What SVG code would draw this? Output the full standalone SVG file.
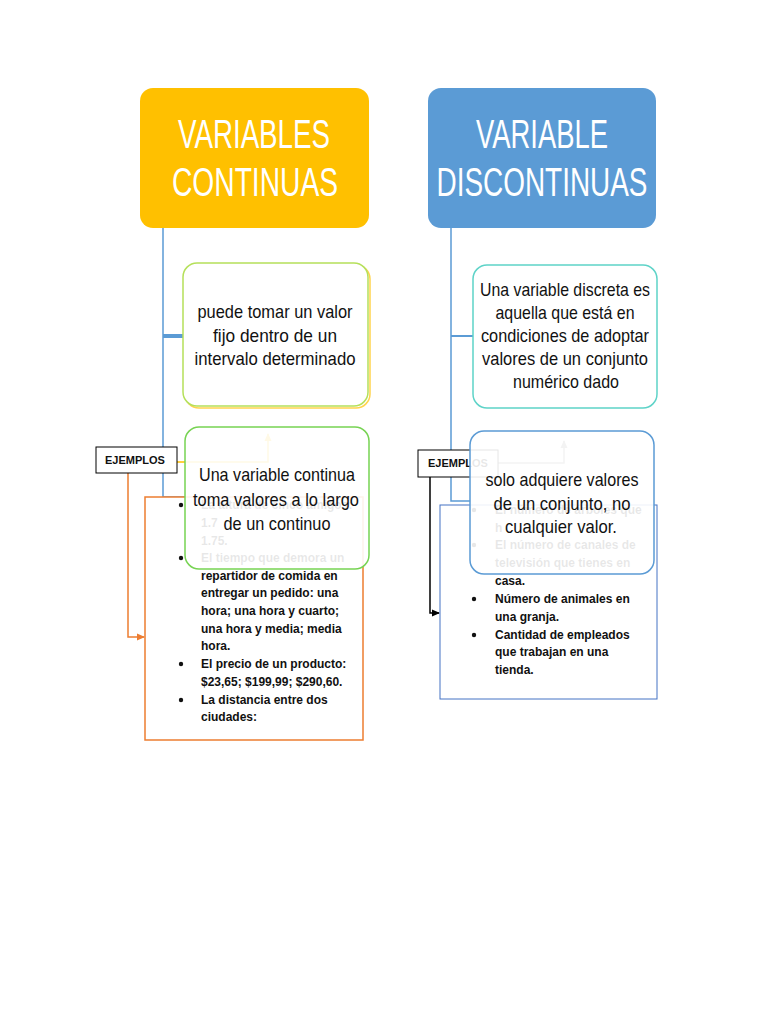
<svg xmlns="http://www.w3.org/2000/svg" width="768" height="1024" viewBox="0 0 768 1024">
<defs>
<style>
.t{font-family:'Liberation Sans Narrow','Liberation Sans',Arial,sans-serif;}
.title{font-size:40px;fill:#fff;text-anchor:middle;}
.body{font-size:19px;fill:#111;text-anchor:middle;}
.li{font-family:'Liberation Sans',Arial,sans-serif;font-size:12px;font-weight:bold;fill:#111;}
.ej{font-family:'Liberation Sans',Arial,sans-serif;font-size:11px;font-weight:bold;fill:#111;}
.con{fill:none;stroke-width:1.5;}
</style>
<marker id="aO" markerWidth="8" markerHeight="8" refX="7" refY="4" orient="auto" markerUnits="userSpaceOnUse"><path d="M0,0.5 L8,4 L0,7.5 z" fill="#ED7D31"/></marker>
<marker id="aK" markerWidth="8" markerHeight="8" refX="7" refY="4" orient="auto" markerUnits="userSpaceOnUse"><path d="M0,0.5 L8,4 L0,7.5 z" fill="#000"/></marker>
<marker id="aY" markerWidth="8" markerHeight="8" refX="7" refY="4" orient="auto" markerUnits="userSpaceOnUse"><path d="M0,0.5 L8,4 L0,7.5 z" fill="#FFC000"/></marker>
<marker id="aG" markerWidth="8" markerHeight="8" refX="7" refY="4" orient="auto" markerUnits="userSpaceOnUse"><path d="M0,0.5 L8,4 L0,7.5 z" fill="#888"/></marker>
</defs>
<rect width="768" height="1024" fill="#fff"/>

<g id="connectors">
<path class="con" d="M163,228 V497 H186" stroke="#5B9BD5"/>
<path d="M163,336 H184" stroke="#5B9BD5" stroke-width="4" fill="none"/>
<path class="con" d="M451,228 V501 H471" stroke="#5B9BD5"/>
<path d="M451,336 H474" stroke="#5B9BD5" stroke-width="2" fill="none"/>
<path class="con" d="M177,462 H268 V434" stroke="#FFC000" marker-end="url(#aY)"/>
<path class="con" d="M128,473 V637 H144" stroke="#ED7D31" marker-end="url(#aO)"/>
<path class="con" d="M498,463 H564 V441" stroke="#888" marker-end="url(#aG)"/>
<path class="con" d="M430,477 V613 H439" stroke="#000" marker-end="url(#aK)"/>
</g>

<g id="titulo-continuas">
<rect x="140" y="88" width="229" height="140" rx="13" fill="#FFC000"/>
<text class="t title" x="254" y="148" textLength="152" lengthAdjust="spacingAndGlyphs">VARIABLES</text>
<text class="t title" x="255" y="196" textLength="166" lengthAdjust="spacingAndGlyphs">CONTINUAS</text>
</g>

<g id="titulo-discontinuas">
<rect x="428" y="88" width="228" height="140" rx="13" fill="#5B9BD5"/>
<text class="t title" x="542" y="148" textLength="132" lengthAdjust="spacingAndGlyphs">VARIABLE</text>
<text class="t title" x="542" y="196" textLength="211" lengthAdjust="spacingAndGlyphs">DISCONTINUAS</text>
</g>

<g id="def-continuas">
<rect x="185" y="265" width="185" height="143" rx="14" fill="none" stroke="#FFC000" stroke-width="1.5" opacity="0.7"/>
<rect x="183" y="263" width="185" height="143" rx="14" fill="#fff" stroke="#B5E05A" stroke-width="1.5"/>
<text class="t body" x="275" y="318" textLength="155" lengthAdjust="spacingAndGlyphs">puede tomar un valor</text>
<text class="t body" x="275" y="342" textLength="124" lengthAdjust="spacingAndGlyphs">fijo dentro de un</text>
<text class="t body" x="275" y="365" textLength="161" lengthAdjust="spacingAndGlyphs">intervalo determinado</text>
</g>

<g id="def-discontinuas">
<rect x="473" y="265" width="184" height="143" rx="14" fill="#fff" stroke="#5ED3C8" stroke-width="1.5"/>
<text class="t body" x="565" y="296" textLength="170" lengthAdjust="spacingAndGlyphs">Una variable discreta es</text>
<text class="t body" x="565" y="319" textLength="139" lengthAdjust="spacingAndGlyphs">aquella que está en</text>
<text class="t body" x="565" y="342" textLength="168" lengthAdjust="spacingAndGlyphs">condiciones de adoptar</text>
<text class="t body" x="565" y="365" textLength="166" lengthAdjust="spacingAndGlyphs">valores de un conjunto</text>
<text class="t body" x="566" y="388" textLength="106" lengthAdjust="spacingAndGlyphs">numérico dado</text>
</g>

<g id="ejemplos-continuas">
<rect x="145" y="497" width="218" height="243" fill="#fff" stroke="#ED7D31" stroke-width="1.5"/>
<g class="li">
<circle cx="181" cy="505" r="2.2" fill="#111"/>
<text x="201" y="509">La altura de cinco amigos:</text>
<text x="201" y="527">1.7</text>
<text x="201" y="545">1.75.</text>
<circle cx="181" cy="558" r="2.2" fill="#111"/>
<text x="201" y="562">El tiempo que demora un</text>
<text x="201" y="580">repartidor de comida en</text>
<text x="201" y="597">entregar un pedido: una</text>
<text x="201" y="615">hora; una hora y cuarto;</text>
<text x="201" y="633">una hora y media; media</text>
<text x="201" y="650">hora.</text>
<circle cx="181" cy="664" r="2.2" fill="#111"/>
<text x="201" y="668">El precio de un producto:</text>
<text x="201" y="686">$23,65; $199,99; $290,60.</text>
<circle cx="181" cy="700" r="2.2" fill="#111"/>
<text x="201" y="704">La distancia entre dos</text>
<text x="201" y="721">ciudades:</text>
</g>
</g>

<g id="ejemplos-discontinuas">
<rect x="440" y="505" width="217" height="194" fill="#fff" stroke="#4472C4" stroke-width="1"/>
<g class="li">
<circle cx="474" cy="510" r="2.2" fill="#111"/>
<text x="495" y="514">El número de árboles que</text>
<text x="495" y="532">h</text>
<circle cx="474" cy="545" r="2.2" fill="#111"/>
<text x="495" y="549">El número de canales de</text>
<text x="495" y="567">televisión que tienes en</text>
<text x="495" y="585">casa.</text>
<circle cx="474" cy="599" r="2.2" fill="#111"/>
<text x="495" y="603">Número de animales en</text>
<text x="495" y="621">una granja.</text>
<circle cx="474" cy="635" r="2.2" fill="#111"/>
<text x="495" y="639">Cantidad de empleados</text>
<text x="495" y="656">que trabajan en una</text>
<text x="495" y="674">tienda.</text>
</g>
</g>

<g id="ejemplos-label-izq">
<rect x="96" y="447" width="81" height="26" fill="#fff" stroke="#000" stroke-width="1"/>
<text class="ej" x="105" y="464">EJEMPLOS</text>
</g>

<g id="ejemplos-label-der">
<rect x="418" y="450" width="80" height="27" fill="#fff" stroke="#000" stroke-width="1"/>
<text class="ej" x="428" y="467">EJEMPLOS</text>
</g>

<g id="nota-continuas">
<rect x="185" y="427" width="184" height="142" rx="14" fill="#fff" fill-opacity="0.9" stroke="#77D353" stroke-width="1.5"/>
<text class="t body" x="277" y="481" textLength="156" lengthAdjust="spacingAndGlyphs">Una variable continua</text>
<text class="t body" x="276" y="506" textLength="166" lengthAdjust="spacingAndGlyphs">toma valores a lo largo</text>
<text class="t body" x="277" y="530" textLength="107" lengthAdjust="spacingAndGlyphs">de un continuo</text>
</g>

<g id="nota-discontinuas">
<rect x="470" y="431" width="184" height="143" rx="14" fill="#fff" fill-opacity="0.9" stroke="#5B9BD5" stroke-width="1.5"/>
<text class="t body" x="562" y="486" textLength="153" lengthAdjust="spacingAndGlyphs">solo adquiere valores</text>
<text class="t body" x="562" y="510" textLength="137" lengthAdjust="spacingAndGlyphs">de un conjunto, no</text>
<text class="t body" x="561" y="533" textLength="112" lengthAdjust="spacingAndGlyphs">cualquier valor.</text>
</g>
</svg>
